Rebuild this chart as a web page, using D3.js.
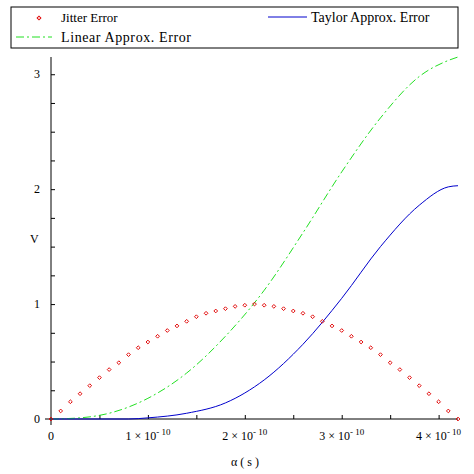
<!DOCTYPE html><html><head><script src="https://cdn.jsdelivr.net/npm/d3@7"></script>
<style>body{margin:0;background:#fff}text{font-family:"Liberation Serif",serif}</style></head><body><svg id="c" width="474" height="474"></svg>
<script>
const jitterX=d3.range(43).map(i=>i*0.1e-10);
const jitterY=[0,.07,.15,.22,.29,.36,.43,.49,.56,.62,.67,.72,.77,.81,.85,.89,.92,.94,.96,.98,.99,1,.99,.98,.96,.94,.92,.89,.85,.81,.77,.72,.67,.62,.56,.49,.43,.36,.29,.22,.15,.07,0];
const linX=[0,0.3,0.6,1,1.4,1.8,2.2,2.6,3,3.4,3.8,4.1,4.2].map(v=>v*1e-10);
const linY=[0,0.01,0.05,0.18,0.4,0.72,1.12,1.62,2.15,2.62,2.98,3.12,3.15];
const tayX=[0,0.8,1,1.4,1.8,2.2,2.6,3,3.4,3.8,4.1,4.2].map(v=>v*1e-10);
const tayY=[0,0,0.01,0.05,0.14,0.34,0.65,1.05,1.5,1.86,2.02,2.03];
const xTicks=[1e-10,2e-10,3e-10,4e-10], xLabels=["1","2","3","4"];
const yTicks=[0,1,2,3];
const svg=d3.select("#c");
const x=d3.scaleLinear().domain([0,4.2e-10]).range([51,458]);
const y=d3.scaleLinear().domain([0,3.15]).range([419,57]);
const ax=svg.append("g").attr("transform","translate(0,419)").call(d3.axisBottom(x).tickValues(d3.range(1,9).map(i=>i*0.5e-10)).tickSize(-4).tickFormat(""));
ax.select(".domain").attr("d","M45,0H458");
const ay=svg.append("g").attr("transform","translate(51,0)").call(d3.axisLeft(y).tickValues(d3.range(1,13).map(i=>i*0.25)).tickSize(-4).tickFormat(""));
ay.select(".domain").attr("d","M0,425V57");
svg.selectAll(".tick line").attr("stroke","#000");
svg.append("g").selectAll("text").data(xTicks).join("text").attr("x",d=>x(d)).attr("y",440).attr("text-anchor","middle").attr("font-size",12)
 .html((d,i)=>xLabels[i]+" × 10<tspan dy='-5' font-size='9'>- 10</tspan>");
svg.append("text").attr("x",51).attr("y",440).attr("text-anchor","middle").attr("font-size",12).text("0");
svg.append("g").selectAll("text").data(yTicks).join("text").attr("x",40).attr("y",d=>y(d)+4).attr("text-anchor","end").attr("font-size",12).text(d=>d);
svg.append("text").attr("x",30).attr("y",243).attr("font-size",12).text("V");
svg.append("text").attr("x",245).attr("y",466).attr("text-anchor","middle").attr("font-size",12).text("α ( s )");
const line=d3.line().curve(d3.curveMonotoneX);
svg.append("path").attr("d",line(linX.map((v,i)=>[x(v),y(linY[i])]))).attr("fill","none").attr("stroke","#22e022").attr("stroke-width",1).attr("stroke-dasharray","8,3,2,3");
svg.append("path").attr("d",line(tayX.map((v,i)=>[x(v),y(tayY[i])]))).attr("fill","none").attr("stroke","#0000cc").attr("stroke-width",1);
const dia=d3.symbol().type(d3.symbolSquare).size(7);
svg.append("g").selectAll("path").data(jitterX).join("path").attr("transform",(d,i)=>`translate(${x(d)},${y(jitterY[i])}) rotate(45)`).attr("d",dia).attr("fill","none").attr("stroke","#e00000").attr("stroke-width",0.9);
svg.append("rect").attr("x",11).attr("y",7).attr("width",447).attr("height",41).attr("fill","#fff").attr("stroke","#000");
svg.append("path").attr("transform","translate(39,18) rotate(45)").attr("d",dia).attr("fill","none").attr("stroke","#e00000");
svg.append("text").attr("x",61).attr("y",22).attr("font-size",13).text("Jitter Error");
svg.append("line").attr("x1",16).attr("x2",52).attr("y1",37).attr("y2",37).attr("stroke","#22e022").attr("stroke-dasharray","8,3,2,3");
svg.append("text").attr("x",61).attr("y",42).attr("font-size",14).attr("letter-spacing",0.6).text("Linear  Approx.  Error");
svg.append("line").attr("x1",268).attr("x2",307).attr("y1",17).attr("y2",17).attr("stroke","#0000cc");
svg.append("text").attr("x",311).attr("y",22).attr("font-size",14).text("Taylor Approx. Error");
</script></body></html>
